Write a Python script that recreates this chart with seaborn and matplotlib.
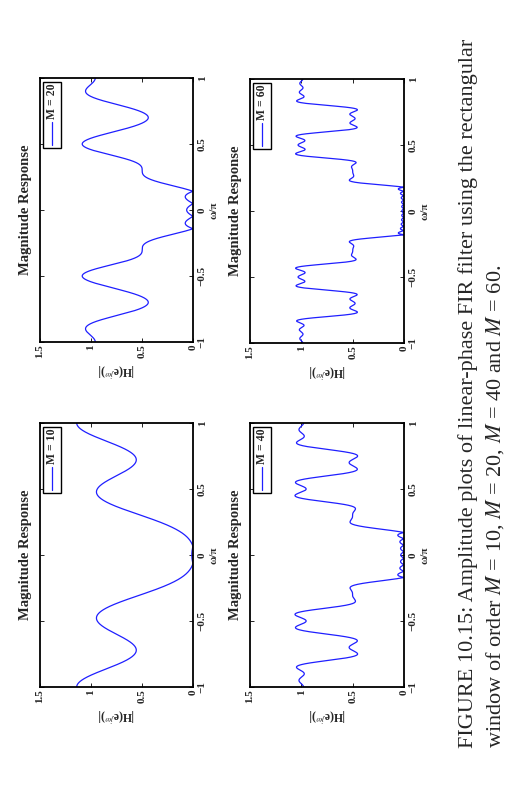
import numpy as np
import pandas as pd
import seaborn as sns
import matplotlib.pyplot as plt
from matplotlib.patches import Rectangle

# ideal multiband response (band edges in units of pi)
band_lo = [0.0, 0.2, 0.4, 0.6, 0.8]
band_hi = [0.2, 0.4, 0.6, 0.8, 1.0]
band_gain = [0.0, 0.5, 1.0, 0.5, 1.0]
orders = [10, 20, 40, 60]

h_ticks = [0, 0.5, 1, 1.5]
h_labels = ['0', '0.5', '1', '1.5']
w_ticks = [-1, -0.5, 0, 0.5, 1]
w_labels = ['\u22121', '\u22120.5', '0', '0.5', '1']

caption_1 = 'FIGURE 10.15: Amplitude plots of linear-phase FIR filter using the rectangular'
caption_2 = r'window of order $M$ = 10, $M$ = 20, $M$ = 40 and $M$ = 60.'


def amplitude(M, w):
    # rectangular window = truncated ideal impulse response, n = -M/2..M/2
    n = np.arange(1, M // 2 + 1)
    hd0 = sum(g * (b - a) for a, b, g in zip(band_lo, band_hi, band_gain))
    hd = np.zeros(len(n))
    for a, b, g in zip(band_lo, band_hi, band_gain):
        hd += g * (np.sin(b * np.pi * n) - np.sin(a * np.pi * n)) / (np.pi * n)
    A = hd0 + 2 * np.cos(np.outer(w * np.pi, n)) @ hd
    return np.abs(A)


w = np.linspace(-1, 1, 2001)
df = pd.concat([pd.DataFrame({'w': w, 'H': amplitude(M, w), 'M': M}) for M in orders])

sns.set_theme(style='white')
plt.rcParams['font.family'] = ['Liberation Serif', 'DejaVu Serif']
plt.rcParams['mathtext.fontset'] = 'stix'

W, Hpx = 511, 793
fig = plt.figure(figsize=(W / 100, Hpx / 100), dpi=100)
fig.patch.set_facecolor('white')

# page is turned a quarter: each panel has |H| across (inverted) and w/pi upward
boxes = {20: (40, 78, 153, 264), 10: (40, 423, 153, 264),
         60: (250, 79, 154, 264), 40: (250, 423, 154, 264)}

for M in orders:
    x0, y0, bw, bh = boxes[M]
    ax = fig.add_axes([x0 / W, 1 - (y0 + bh) / Hpx, bw / W, bh / Hpx])
    ax.set_facecolor('white')
    sns.lineplot(data=df[df['M'] == M], x='H', y='w', orient='y', estimator=None,
                 color='#1f1fff', lw=0.9, ax=ax)
    ax.set_xlim(1.5, 0)
    ax.set_ylim(-1, 1)
    ax.set_xticks(h_ticks)
    ax.set_xticklabels(h_labels, rotation=90, fontsize=8, fontweight='bold')
    ax.set_yticks(w_ticks)
    ax.set_yticklabels(w_labels, rotation=90, fontsize=8, fontweight='bold', va='center')
    ax.tick_params(axis='both', direction='in', length=3, width=0.6, color='black',
                   top=True, bottom=True, left=True, right=True,
                   labelleft=False, labelright=True, labeltop=False, labelbottom=True)
    ax.tick_params(axis='x', pad=1.5)
    ax.tick_params(axis='y', pad=3.5)
    for s in ax.spines.values():
        s.set_color('black')
        s.set_linewidth(1.3)
    ax.set_ylabel('')
    ax.set_xlabel(r'|H(e$^{j\omega}$)|', rotation=180, fontsize=8.5,
                  fontweight='bold', labelpad=2)
    ax.text(-0.095, 0.5, 'Magnitude Response', transform=ax.transAxes, rotation=90,
            ha='center', va='center', fontsize=10.5, fontweight='bold')
    ax.text(1.135, 0.5, 'ω/π', transform=ax.transAxes, rotation=90,
            ha='center', va='center', fontsize=8, fontweight='bold')

    # legend box drawn by hand so it turns with the page
    ax.add_patch(Rectangle((0.022, 0.735), 0.115, 0.25, transform=ax.transAxes,
                           facecolor='white', edgecolor='black', lw=1.0, zorder=5))
    ax.plot([0.08, 0.08], [0.748, 0.832], transform=ax.transAxes,
            color='#1f1fff', lw=0.9, zorder=6)
    ax.text(0.08, 0.912, f'M = {M}', transform=ax.transAxes, rotation=90,
            ha='center', va='center', fontsize=8.5, fontweight='bold', zorder=6)

fig.text(468 / W, 1 - 748 / Hpx, caption_1, rotation=90, ha='center', va='bottom',
         fontsize=16)
fig.text(495 / W, 1 - 748 / Hpx, caption_2, rotation=90, ha='center', va='bottom',
         fontsize=16)

fig.savefig('out.png', dpi=100, facecolor='white')
